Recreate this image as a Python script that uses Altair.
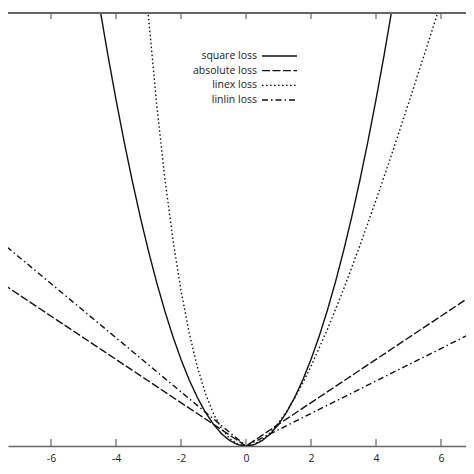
import altair as alt
import pandas as pd

names = ["square loss", "absolute loss", "linex loss", "linlin loss"]

sq_x = [-4.75, -4.5, -4.25, -4.0, -3.75, -3.5, -3.25, -3.0, -2.75, -2.5, -2.25, -2.0, -1.75, -1.5, -1.25, -1.0, -0.75, -0.5, -0.25, 0.0,
        0.25, 0.5, 0.75, 1.0, 1.25, 1.5, 1.75, 2.0, 2.25, 2.5, 2.75, 3.0, 3.25, 3.5, 3.75, 4.0, 4.25, 4.5, 4.75]
sq_y = [22.56, 20.25, 18.06, 16.0, 14.06, 12.25, 10.56, 9.0, 7.56, 6.25, 5.06, 4.0, 3.06, 2.25, 1.56, 1.0, 0.56, 0.25, 0.06, 0.0,
        0.06, 0.25, 0.56, 1.0, 1.56, 2.25, 3.06, 4.0, 5.06, 6.25, 7.56, 9.0, 10.56, 12.25, 14.06, 16.0, 18.06, 20.25, 22.56]

abs_x = [-8.0, 0.0, 7.5]
abs_y = [8.0, 0.0, 7.5]

lx_x = [-3.5, -3.25, -3.0, -2.75, -2.5, -2.25, -2.0, -1.75, -1.5, -1.25, -1.0, -0.75, -0.5, -0.25, 0.0,
        0.25, 0.5, 0.75, 1.0, 1.25, 1.5, 1.75, 2.0, 2.5, 3.0, 3.5, 4.0, 4.5, 5.0, 5.5, 6.0, 6.5]
lx_y = [30.05, 24.53, 19.82, 15.80, 12.40, 9.55, 7.18, 5.24, 3.67, 2.43, 1.49, 0.80, 0.34, 0.08, 0.0,
        0.075, 0.29, 0.62, 1.07, 1.60, 2.22, 2.92, 3.68, 5.37, 7.23, 9.24, 11.35, 13.55, 15.82, 18.14, 20.50, 22.89]

ll_x = [-8.0, 0.0, 7.5]
ll_y = [10.0, 0.0, 5.63]

tick_vals = [-6, -4, -2, 0, 2, 4, 6]

rows = []
for nm, xs, ys in [(names[0], sq_x, sq_y), (names[1], abs_x, abs_y), (names[2], lx_x, lx_y), (names[3], ll_x, ll_y)]:
    for a, b in zip(xs, ys):
        rows.append({"x": a, "y": b, "loss": nm})
df = pd.DataFrame(rows)

W, H = 458, 433
dash_range = [[1, 0], [8, 2.5], [1.5, 2.5], [6, 3, 1.5, 3]]
dash_scale = alt.Scale(domain=names, range=dash_range)

xscale = alt.Scale(domain=[-7.323, 6.769], nice=False, zero=False)

lines = alt.Chart(df).mark_line(clip=True, strokeWidth=1.4, color="#111").encode(
    x=alt.X("x:Q", scale=xscale,
            axis=alt.Axis(values=tick_vals, tickSize=0, grid=False, title=None,
                          domainColor="#666", domainWidth=1.5, labelFont="Open Sans",
                          labelFontSize=10.5, labelColor="#222", labelPadding=7,
                          labelExpr="'' + datum.value")),
    y=alt.Y("y:Q", scale=alt.Scale(domain=[0, 20], nice=False), axis=None),
    strokeDash=alt.StrokeDash("loss:N", scale=dash_scale, legend=None),
    detail="loss:N",
)

tdf = pd.DataFrame({"v": tick_vals})
ticks_bottom = alt.Chart(tdf).mark_rule(color="#666", strokeWidth=1.2).encode(
    x=alt.X("v:Q", scale=xscale), y=alt.value(H), y2=alt.value(H - 7))
ticks_top = alt.Chart(tdf).mark_rule(color="#666", strokeWidth=1.2).encode(
    x=alt.X("v:Q", scale=xscale), y=alt.value(0), y2=alt.value(6))
top_line = alt.Chart(tdf).mark_rule(color="#666", strokeWidth=1.5).encode(
    x=alt.value(0), x2=alt.value(W), y=alt.value(0))

ldf = pd.DataFrame({"loss": names, "rank": [0, 1, 2, 3]})
leg_y = alt.Y("rank:Q", scale=alt.Scale(domain=[0, 3], range=[43, 87]), axis=None)
leg_text = alt.Chart(ldf).mark_text(align="right", baseline="middle", font="Open Sans",
                                    fontSize=10.5, color="#222").encode(
    x=alt.value(249), y=leg_y, text="loss:N")
leg_line = alt.Chart(ldf).mark_rule(strokeWidth=1.4, color="#111").encode(
    x=alt.value(254), x2=alt.value(289), y=leg_y,
    strokeDash=alt.StrokeDash("loss:N", scale=dash_scale, legend=None))

chart = alt.layer(lines, ticks_bottom, ticks_top, top_line, leg_text, leg_line).resolve_scale(
    y="independent"
).properties(
    width=W, height=H,
    autosize=alt.AutoSizeParams(type="none"),
    padding={"left": 0, "top": 5, "right": 0, "bottom": 20}
).configure_view(stroke=None)

chart.save("out.html", embed_options={"renderer": "svg", "actions": False})
